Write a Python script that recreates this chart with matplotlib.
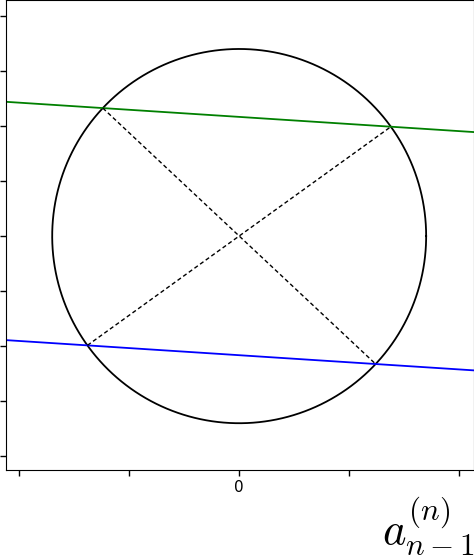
import numpy as np
import matplotlib
matplotlib.use("Agg")
import matplotlib.pyplot as plt
plt.rcParams['mathtext.fontset'] = 'cm'

radius = 3.4
green_line = [(-4.24, 2.44), (4.27, 1.89)]
blue_line = [(-4.24, -1.89), (4.27, -2.44)]
xticks = [-4, -2, 0, 2, 4]
xticklabels = ["", "", "0", "", ""]
yticks = [-4, -3, -2, -1, 0, 1, 2, 3, 4]

def hits(p, q, r):
    (x1, y1), (x2, y2) = p, q
    d = np.array([x2 - x1, y2 - y1]); o = np.array([x1, y1])
    a = d @ d; b = 2 * o @ d; c = o @ o - r * r
    disc = np.sqrt(b * b - 4 * a * c)
    return [o + d * t for t in ((-b - disc) / (2 * a), (-b + disc) / (2 * a))]

fig = plt.figure(figsize=(4.74, 5.55), dpi=100)
ax = fig.add_axes([6/474, 85/555, 468/474, 470/555])
t = np.linspace(0, 2 * np.pi, 400)
ax.plot(radius * np.cos(t), radius * np.sin(t), color="black", lw=1.3)
ax.plot(*zip(*green_line), color="green", lw=1.3)
ax.plot(*zip(*blue_line), color="blue", lw=1.3)
g = hits(*green_line, radius); b = hits(*blue_line, radius)
ax.plot([g[0][0], b[1][0]], [g[0][1], b[1][1]], "k--", lw=1, dashes=(3, 2))
ax.plot([b[0][0], g[1][0]], [b[0][1], g[1][1]], "k--", lw=1, dashes=(3, 2))
ax.set_xlim(-4.24, 4.27); ax.set_ylim(-4.25, 4.29)
ax.set_xticks(xticks); ax.set_xticklabels(xticklabels)
ax.set_yticks(yticks); ax.set_yticklabels([])
ax.tick_params(length=4, width=1, labelsize=11)
fig.text(1.0, -0.005, r"$a_{n-1}^{(n)}$", fontsize=32, ha="right", va="bottom")
fig.savefig("out.png", dpi=100)
